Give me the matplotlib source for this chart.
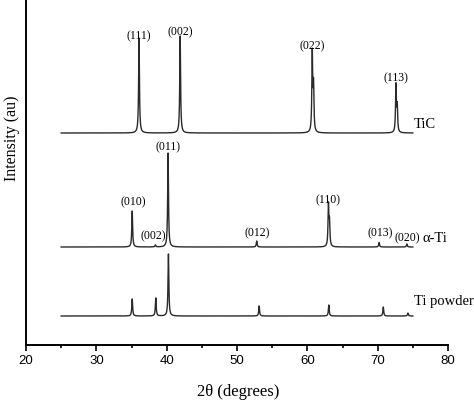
import numpy as np
import matplotlib
matplotlib.use("Agg")
import matplotlib.pyplot as plt

# peak positions (2theta), heights above baseline (au)
tic_pos = [36.07, 41.92, 60.70, 60.88, 72.60, 72.78]
tic_height = [95, 97, 79, 45, 47, 25]
tic_base = 212

ati_pos = [35.10, 38.40, 40.20, 52.80, 63.00, 63.15, 70.20, 74.15]
ati_height = [36, 2, 94, 6, 41, 23, 4.5, 3]
ati_base = 98

tip_pos = [35.10, 38.45, 40.25, 53.15, 63.05, 70.80, 74.30]
tip_height = [17, 18, 62, 10, 11, 9, 3]
tip_base = 29

# peak labels: (text, 2theta, intensity)
tic_labels = [("(111)", 36.07, 309), ("(002)", 41.9, 313), ("(022)", 60.67, 299), ("(113)", 72.6, 267)]
ati_labels = [("(010)", 35.2, 143), ("(002)", 38.06, 109), ("(011)", 40.19, 198),
              ("(012)", 52.85, 112), ("(110)", 62.94, 145), ("(013)", 70.33, 112),
              ("(020)", 74.17, 107)]
trace_names = [("TiC", 75.2, 220), ("α-Ti", 76.4, 107), ("Ti powder", 75.2, 44)]

two_theta = np.arange(25, 75.01, 0.01)


def pattern(pos, height, base, width=0.07):
    y = np.full_like(two_theta, float(base))
    for p, h in zip(pos, height):
        y += h / (1 + ((two_theta - p) / width) ** 2)
    return y


serif = "Liberation Serif"

fig = plt.figure(figsize=(4.74, 4.05), dpi=100)
ax = fig.add_axes([26 / 474, 60 / 405, 422 / 474, 345 / 405])

for pos, height, base in [(tic_pos, tic_height, tic_base),
                          (ati_pos, ati_height, ati_base),
                          (tip_pos, tip_height, tip_base)]:
    ax.plot(two_theta, pattern(pos, height, base), color="#2a2a2a", lw=1.0)

for txt, x, y in tic_labels + ati_labels:
    ax.text(x, y, txt, ha="center", va="center", fontsize=8.5, family=serif)

for txt, x, y in trace_names:
    ax.text(x, y, txt, ha="left", va="center", fontsize=10.5, family=serif)

ax.set_xlim(20, 80)
ax.set_ylim(0, 345)
ax.set_xticks(range(20, 81, 10))
ax.set_xticks(range(25, 80, 10), minor=True)
ax.set_yticks([])
ax.tick_params(axis="x", which="major", direction="out", length=4, width=1.2,
               labelsize=9.5, pad=3)
ax.tick_params(axis="x", which="minor", direction="out", length=2.5, width=1.2)
for lab in ax.get_xticklabels():
    lab.set_family("Liberation Sans")
ax.spines["top"].set_visible(False)
ax.spines["right"].set_visible(False)
ax.spines["left"].set_linewidth(1.4)
ax.spines["bottom"].set_linewidth(1.4)

fig.text(0.503, 0.032, "2θ (degrees)", ha="center", va="center", fontsize=12, family=serif)
fig.text(0.025, 0.659, "Intensity (au)", ha="center", va="center", rotation=90,
         fontsize=11.5, family=serif)

fig.savefig("out.png", dpi=100)
